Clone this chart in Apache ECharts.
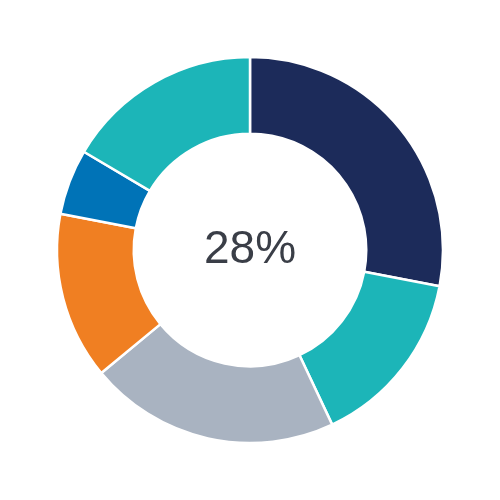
<!DOCTYPE html>
<html><head><meta charset="utf-8">
<script src="https://cdn.jsdelivr.net/npm/echarts@6/dist/echarts.min.js"></script>
<style>html,body{margin:0;padding:0;background:#fff}#c{width:500px;height:500px}</style>
</head><body><div id="c"></div>
<script>
const categories = ['A','B','C','D','E','F'];
const values = [28, 15, 21, 14, 5.5, 16.5];
const colors = ['#1c2b5a','#1cb5b8','#a9b3c1','#f07f22','#0073b7','#1cb5b8'];
const centerLabel = '28%';

const chart = echarts.init(document.getElementById('c'));
chart.setOption({
  animation: false,
  title: {
    text: centerLabel, left: 'center', top: 'middle',
    textStyle: { fontSize: 46, fontWeight: 'normal', color: '#3a3e47', fontFamily: 'Liberation Sans' }
  },
  series: [{
    type: 'pie',
    center: ['50%', '50%'],
    radius: ['46.5%', '77.2%'],
    startAngle: 90,
    clockwise: true,
    label: { show: false },
    labelLine: { show: false },
    itemStyle: { borderColor: '#fff', borderWidth: 2.5 },
    data: categories.map((c, i) => ({ name: c, value: values[i], itemStyle: { color: colors[i] } }))
  }]
});
</script></body></html>
